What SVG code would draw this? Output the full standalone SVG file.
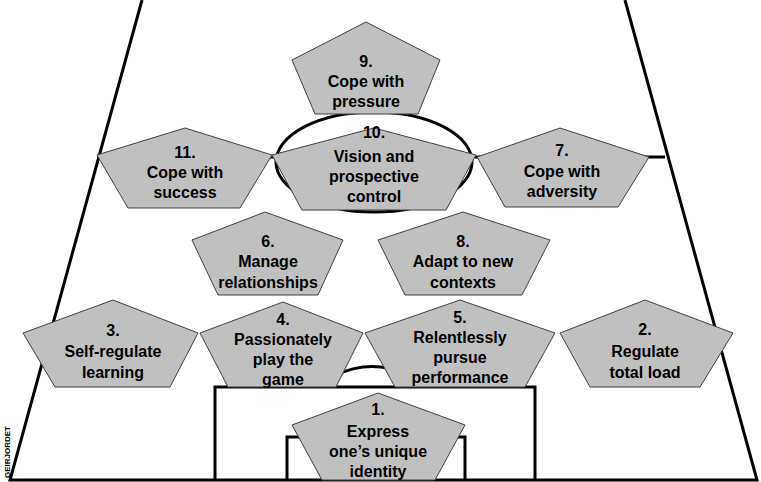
<svg xmlns="http://www.w3.org/2000/svg" width="761" height="482" viewBox="0 0 761 482">
<style>
.pitch{fill:none;stroke:#000;stroke-width:3}
.pent{fill:#c0c0c0;stroke:#404040;stroke-width:1}
.t{font-family:"Liberation Sans",Arial,sans-serif;font-weight:bold;font-size:16px;text-anchor:middle;fill:#000}
</style>
<rect width="761" height="482" fill="#fff"/>
<g id="pitch">
<path class="pitch" d="M142,0 L10,480 L757,480 L625,0"/>
<line class="pitch" x1="97" y1="157" x2="665" y2="157"/>
<ellipse class="pitch" cx="374" cy="162" rx="98" ry="50"/>
<path class="pitch" d="M215,480 V387 H535 V480"/>
<path class="pitch" d="M287,480 V437 H465 V480"/>
<path class="pitch" d="M336,375 Q372,358 408,375"/>
</g>
<g id="n9"><polygon class="pent" points="366,22 440,60 418,114 315,114 292,60"/>
<text class="t"><tspan x="366" y="67">9.</tspan><tspan x="366" y="87">Cope with</tspan><tspan x="366" y="107">pressure</tspan></text></g>
<g id="n10"><polygon class="pent" points="374,128 476,155 446,210 302,210 272,155"/>
<text class="t"><tspan x="374" y="138">10.</tspan><tspan x="374" y="162">Vision and</tspan><tspan x="374" y="182">prospective</tspan><tspan x="374" y="202">control</tspan></text></g>
<g id="n11"><polygon class="pent" points="185,128 272,155 240,208 128,208 97,155"/>
<text class="t"><tspan x="185" y="158">11.</tspan><tspan x="185" y="178">Cope with</tspan><tspan x="185" y="198">success</tspan></text></g>
<g id="n7"><polygon class="pent" points="560,128 649,157 618,207 505,207 477,157"/>
<text class="t"><tspan x="562" y="156">7.</tspan><tspan x="562" y="177">Cope with</tspan><tspan x="562" y="197">adversity</tspan></text></g>
<g id="n6"><polygon class="pent" points="265,212 343,240 318,295 218,295 192,240"/>
<text class="t"><tspan x="268" y="247">6.</tspan><tspan x="268" y="267">Manage</tspan><tspan x="268" y="288">relationships</tspan></text></g>
<g id="n8"><polygon class="pent" points="463,212 550,240 522,295 405,295 378,240"/>
<text class="t"><tspan x="463" y="247">8.</tspan><tspan x="463" y="267">Adapt to new</tspan><tspan x="463" y="288">contexts</tspan></text></g>
<g id="n3"><polygon class="pent" points="113,300 198,333 170,387 55,387 23,333"/>
<text class="t"><tspan x="113" y="336">3.</tspan><tspan x="113" y="357">Self-regulate</tspan><tspan x="113" y="378">learning</tspan></text></g>
<g id="n4"><polygon class="pent" points="283,302 363,333 336,387 228,387 200,333"/>
<text class="t"><tspan x="283" y="325">4.</tspan><tspan x="283" y="345">Passionately</tspan><tspan x="283" y="365">play the</tspan><tspan x="283" y="385">game</tspan></text></g>
<g id="n5"><polygon class="pent" points="460,300 555,333 525,387 395,387 365,333"/>
<text class="t"><tspan x="460" y="323">5.</tspan><tspan x="460" y="343">Relentlessly</tspan><tspan x="460" y="363">pursue</tspan><tspan x="460" y="383">performance</tspan></text></g>
<g id="n2"><polygon class="pent" points="645,300 733,333 700,387 590,387 560,333"/>
<text class="t"><tspan x="645" y="335">2.</tspan><tspan x="645" y="357">Regulate</tspan><tspan x="645" y="378">total load</tspan></text></g>
<g id="n1"><polygon class="pent" points="378,393 465,425 435,480 322,480 292,425"/>
<text class="t"><tspan x="378" y="415">1.</tspan><tspan x="378" y="437">Express</tspan><tspan x="378" y="457">one’s unique</tspan><tspan x="378" y="477">identity</tspan></text></g>
<text x="0" y="0" transform="translate(10,478) rotate(-90)" font-family="Liberation Sans,Arial,sans-serif" font-size="8" font-weight="bold" fill="#000">GEIRJORDET</text>
</svg>
